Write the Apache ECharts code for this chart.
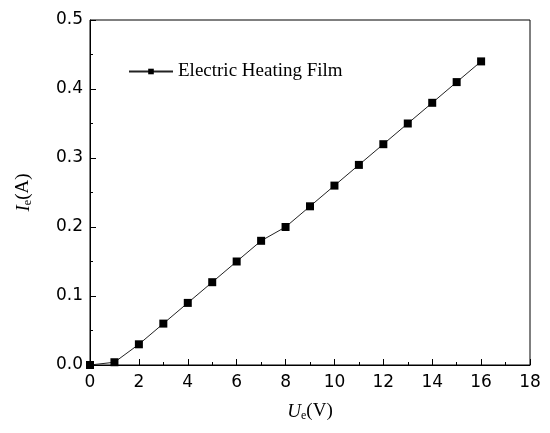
<!DOCTYPE html>
<html><head><meta charset="utf-8">
<script src="https://cdn.jsdelivr.net/npm/echarts@6/dist/echarts.min.js"></script>
<style>html,body{margin:0;padding:0;background:#fff}#c{width:550px;height:433px}</style>
</head><body><div id="c"></div>
<script>
const voltage = [0,1,2,3,4,5,6,7,8,9,10,11,12,13,14,15,16];
const current = [0,0.004,0.03,0.06,0.09,0.12,0.15,0.18,0.20,0.23,0.26,0.29,0.32,0.35,0.38,0.41,0.44];
const seriesName = 'Electric Heating Film';

const chart = echarts.init(document.getElementById('c'));
const axisFont = {fontFamily:'DejaVu Sans', fontSize:17, color:'#000'};
const titleRich = {
  i:{fontFamily:'Liberation Serif', fontStyle:'italic', fontSize:19, color:'#000'},
  s:{fontFamily:'Liberation Serif', fontSize:12, color:'#000', verticalAlign:'bottom', padding:[9,0,0,0]},
  n:{fontFamily:'Liberation Serif', fontSize:19, color:'#000'}
};
chart.setOption({
  animation:false,
  backgroundColor:'#fff',
  grid:{left:90, top:20, right:20, bottom:68, show:true, borderColor:'#000', borderWidth:1},
  legend:{
    left:123, top:57, itemWidth:44, itemHeight:7, itemGap:8,
    textStyle:{fontFamily:'Liberation Serif, Times New Roman', fontSize:19, color:'#000'},
    data:[seriesName]
  },
  xAxis:{
    type:'value', min:0, max:18, interval:2,
    axisLine:{lineStyle:{color:'#000', width:1}},
    axisTick:{inside:true, length:6, lineStyle:{color:'#000'}},
    minorTick:{show:true, splitNumber:2, length:3, lineStyle:{color:'#000'}},
    splitLine:{show:false},
    axisLabel:Object.assign({margin:9}, axisFont),
    name:'{i|U}{s|e}{n|(V)}', nameLocation:'middle', nameGap:36,
    nameTextStyle:{rich:titleRich}
  },
  yAxis:{
    type:'value', min:0, max:0.5, interval:0.1,
    axisLine:{lineStyle:{color:'#000', width:1}},
    axisTick:{inside:true, length:6, lineStyle:{color:'#000'}},
    minorTick:{show:true, splitNumber:2, length:3, lineStyle:{color:'#000'}},
    splitLine:{show:false},
    axisLabel:Object.assign({margin:7, formatter:v=>v.toFixed(1)}, axisFont),
    name:'{i|I}{s|e}{n|(A)}', nameLocation:'middle', nameGap:56, nameRotate:90,
    nameTextStyle:{rich:titleRich}
  },
  series:[{
    name:seriesName, type:'line',
    data:voltage.map((v,i)=>[v,current[i]]),
    symbol:'rect', symbolSize:8,
    itemStyle:{color:'#000'},
    lineStyle:{color:'#222', width:1},
    clip:false
  }]
});
</script></body></html>
